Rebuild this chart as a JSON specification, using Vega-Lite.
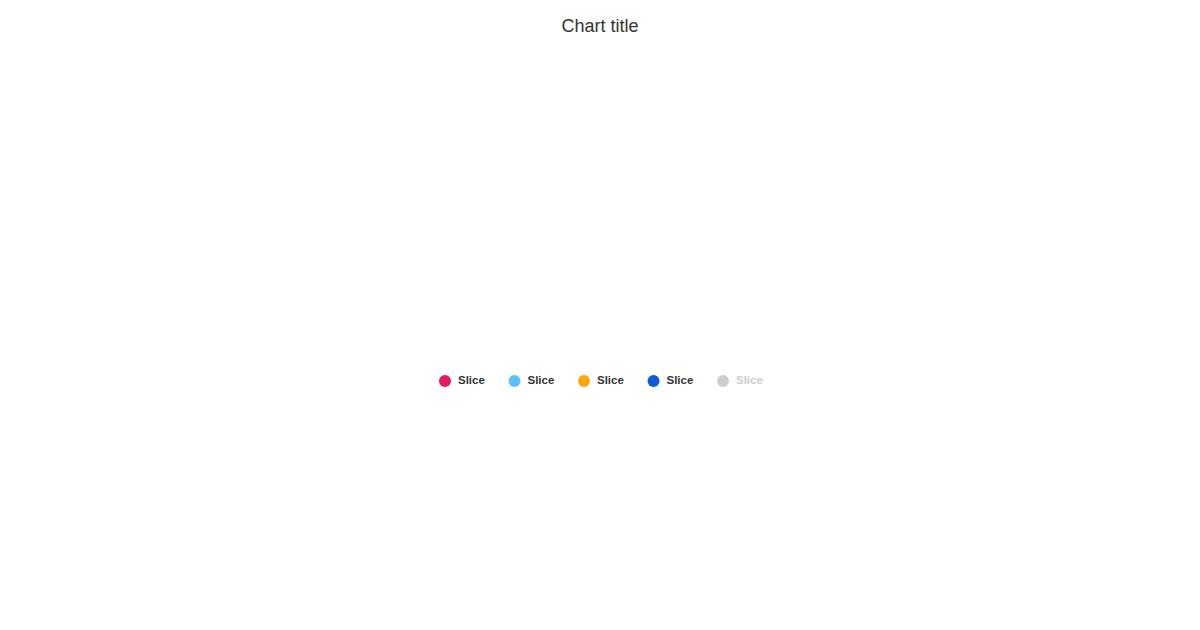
{
  "$schema": "https://vega.github.io/schema/vega-lite/v6.json",
  "background": "white",
  "autosize": {"type": "fit", "contains": "padding"},
  "width": 1200,
  "height": 630,
  "padding": {"top": 18, "left": 0, "right": 0, "bottom": 0},
  "title": {
    "text": "Chart title",
    "anchor": "middle",
    "font": "Liberation Sans",
    "fontSize": 18,
    "fontWeight": "normal",
    "color": "#333333"
  },
  "data": {
    "values": [
      {"slice": "s1", "value": 0},
      {"slice": "s2", "value": 0},
      {"slice": "s3", "value": 0},
      {"slice": "s4", "value": 0},
      {"slice": "s5", "value": 0}
    ]
  },
  "mark": {"type": "arc", "outerRadius": 150},
  "encoding": {
    "theta": {"field": "value", "type": "quantitative", "stack": true},
    "color": {
      "field": "slice",
      "type": "nominal",
      "scale": {
        "domain": ["s1", "s2", "s3", "s4", "s5"],
        "range": ["#e5195e", "#5ac0f7", "#ffa40a", "#0e5be0", "#cccccc"]
      },
      "legend": {
        "title": null,
        "orient": "none",
        "direction": "horizontal",
        "legendX": 439,
        "legendY": 335,
        "padding": 0,
        "symbolType": "circle",
        "symbolSize": 144,
        "symbolOpacity": 1,
        "symbolStrokeWidth": 0,
        "labelExpr": "'Slice'",
        "labelFont": "Liberation Sans",
        "labelFontSize": 11.5,
        "labelFontWeight": "bold",
        "labelOffset": 7,
        "columnPadding": 23.5,
        "encode": {
          "labels": {
            "update": {
              "fill": {"signal": "datum.value === 's5' ? '#cccccc' : '#333333'"}
            }
          }
        }
      }
    }
  },
  "config": {
    "view": {"stroke": null}
  }
}
